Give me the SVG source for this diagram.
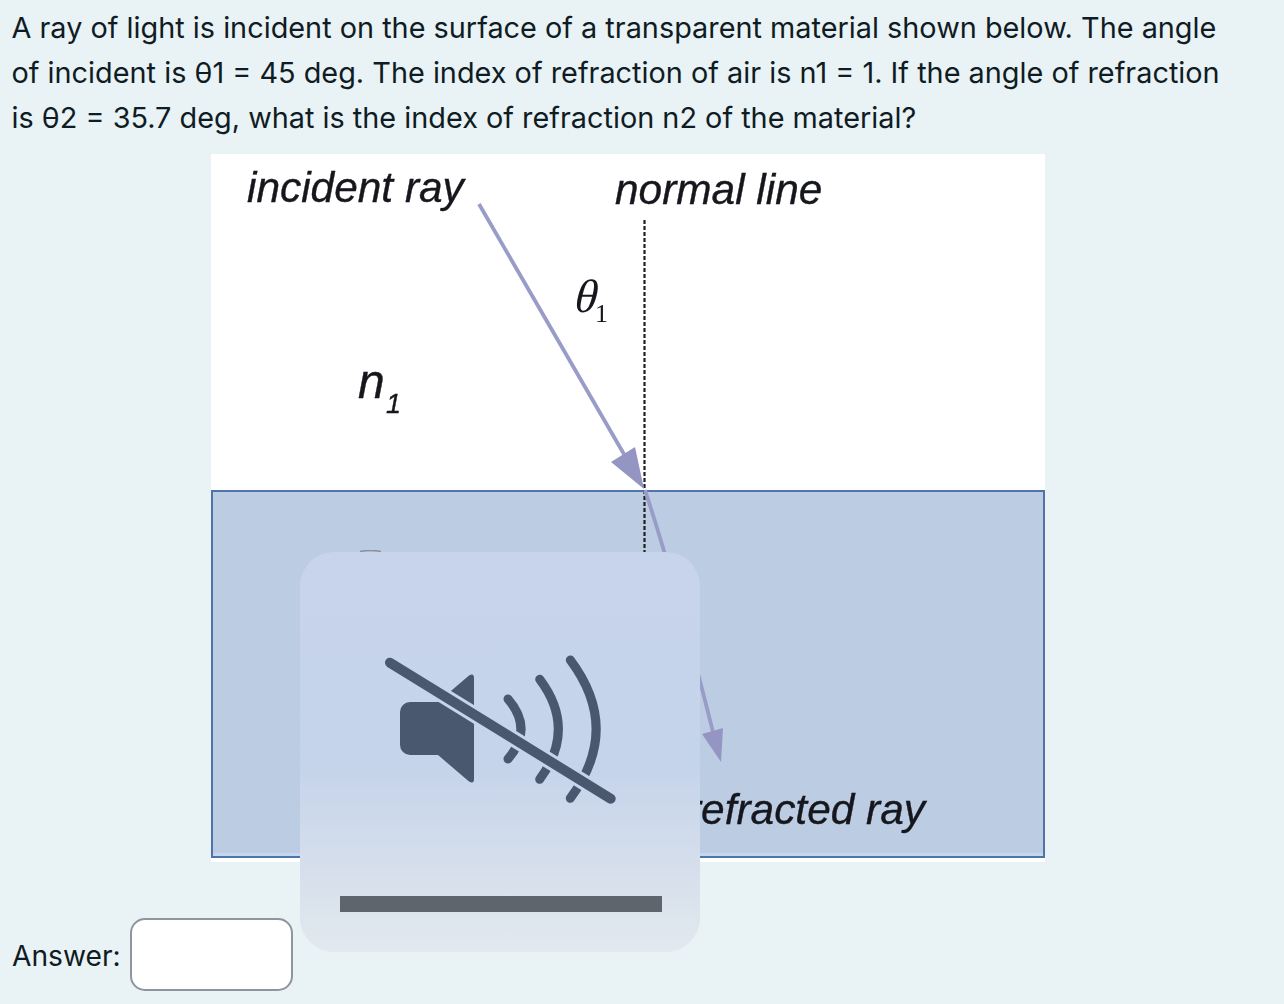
<svg xmlns="http://www.w3.org/2000/svg" width="1284" height="1004" viewBox="0 0 1284 1004">
<style>
.q{font-family:Inter,"Liberation Sans",sans-serif;font-size:28.85px;fill:#101c24}
.l{font-family:"Liberation Sans",Arial,sans-serif;font-style:italic;font-size:42.4px;fill:#14161c;stroke:#14161c;stroke-width:.35}
.s{fill:none;stroke:#4a586f;stroke-linecap:round}
.ray{fill:none;stroke:#9a9cc8;stroke-width:3.8}
.head{fill:#9595c4}
</style>
<defs>
<linearGradient id="panel" x1="0" y1="0" x2="0" y2="1">
<stop offset="0" stop-color="#c7d4ec"/><stop offset="0.55" stop-color="#c6d4eb"/><stop offset="0.8" stop-color="#d6dfeb"/><stop offset="1" stop-color="#e2e9ef"/>
</linearGradient>
<filter id="soft" x="-5%" y="-5%" width="110%" height="110%"><feGaussianBlur stdDeviation="0.55"/></filter>
<mask id="cut" maskUnits="userSpaceOnUse" x="380" y="640" width="240" height="170">
<rect x="380" y="640" width="240" height="170" fill="#fff"/>
<line x1="390" y1="662.7" x2="610.7" y2="798.7" stroke="#000" stroke-width="16"/>
</mask>
</defs>
<rect id="page" width="1284" height="1004" fill="#e9f2f5"/>
<g id="question">
<text class="q" x="11.500" y="38">A ray of light is incident on the surface of a transparent material shown below. The angle</text>
<text class="q" x="11.500" y="83">of incident is θ1 = 45 deg. The index of refraction of air is n1 = 1. If the angle of refraction</text>
<text class="q" x="11.500" y="128">is θ2 = 35.7 deg, what is the index of refraction n2 of the material?</text>
</g>
<g id="figure-bg"><rect x="211" y="154" width="834" height="708" fill="#fff"/></g>
<g id="material"><rect x="212" y="491" width="832" height="366" fill="#bbcce3" stroke="#4f74a8" stroke-width="2"/><rect x="213" y="853" width="830" height="3" fill="#c5d6f0"/></g>
<g id="connectors" filter="url(#soft)">
<line x1="644.500" y1="220" x2="644.500" y2="556" stroke="#222" stroke-width="2.200" stroke-dasharray="4 2"/>
<line class="ray" x1="479" y1="204" x2="632" y2="468"/>
<polygon class="head" points="644,489 611,462 635,447"/>
<path class="ray" d="M645 490C668 560 690 640 713 732"/>
<polygon class="head" points="721,762 702,734 723,728"/>
</g>
<g id="label-incident" filter="url(#soft)"><text class="l" x="247" y="202">incident ray</text></g>
<g id="label-normal" filter="url(#soft)"><text class="l" x="615" y="204">normal line</text></g>
<g id="label-theta1" filter="url(#soft)"><text transform="translate(572 312) skewX(-14)" font-family="'Liberation Serif',serif" font-size="47" fill="#14161c">θ</text><text x="595" y="322" font-family="'Liberation Serif',serif" font-size="26" fill="#14161c">1</text></g>
<g id="label-n1" filter="url(#soft)"><text class="l" x="358" y="398" style="font-size:48px">n</text><text class="l" x="386" y="413" style="font-size:27px">1</text></g>
<g id="label-refracted" filter="url(#soft)"><text class="l" x="687" y="824">refracted ray</text></g>
<path d="M360 551.500Q370 549.500 381 551.500" fill="none" stroke="#8a8f9a" stroke-width="1.500" filter="url(#soft)"/>
<g id="audio-panel">
<rect x="300" y="552" width="400" height="400" rx="34" fill="url(#panel)"/>
<g mask="url(#cut)">
<path d="M400 712a10 10 0 0 1 10-10h28l31-26.500q5-3 5 2.500v101q0 5.500-5 2.500l-31-26.500h-28a10 10 0 0 1-10-10z" fill="#4a586f"/>
<path class="s" stroke-width="9" d="M508 699Q534 729 508 759"/>
<path class="s" stroke-width="9" d="M539.700 679.300Q577 729 539.700 779.300"/>
<path class="s" stroke-width="9" d="M570.300 660Q622 729 570.300 798.300"/>
</g>
<line class="s" stroke-width="10" x1="390" y1="662.700" x2="610.700" y2="798.700"/>
<rect x="340" y="896" width="322" height="16" fill="#5e656d"/>
</g>
<g id="answer">
<text class="q" x="12" y="966" style="font-size:28.200px">Answer:</text>
<rect x="131" y="919" width="161" height="71" rx="14" fill="#fff" stroke="#8f959f" stroke-width="2"/>
</g>
</svg>
